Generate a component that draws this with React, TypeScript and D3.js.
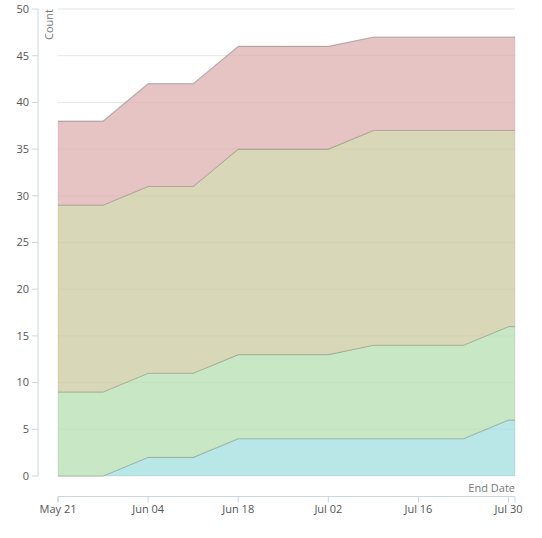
import * as d3 from "d3";

const dates = [
  "2018-05-21", "2018-05-28", "2018-06-04", "2018-06-11", "2018-06-18", "2018-06-25",
  "2018-07-02", "2018-07-09", "2018-07-16", "2018-07-23", "2018-07-30", "2018-07-31",
];
const seriesA = [0, 0, 2, 2, 4, 4, 4, 4, 4, 4, 6, 6];
const seriesB = [9, 9, 9, 9, 9, 9, 9, 10, 10, 10, 10, 10];
const seriesC = [20, 20, 20, 20, 22, 22, 22, 23, 23, 23, 21, 21];
const seriesD = [9, 9, 11, 11, 11, 11, 11, 10, 10, 10, 10, 10];
const seriesKeys = ["a", "b", "c", "d"];
const seriesColors = ["#a2dedf", "#b4dfb2", "#cbcba0", "#deb0b0"];
const yTicks = [0, 5, 10, 15, 20, 25, 30, 35, 40, 45, 50];

const W = 542;
const H = 538;
const plot = { left: 58, right: 515, top: 9, bottom: 476 };
const yAxisX = 38;
const xAxisY = 496.5;
const font = "'Open Sans', sans-serif";

export default function App() {
  const parse = d3.timeParse("%Y-%m-%d");
  const rows = dates.map((d, i) => ({
    date: parse(d) as Date,
    a: seriesA[i],
    b: seriesB[i],
    c: seriesC[i],
    d: seriesD[i],
  }));
  const stacked = d3.stack<any>().keys(seriesKeys)(rows);
  const first = rows[0].date;
  const last = rows[rows.length - 1].date;

  const x = d3.scaleTime().domain([first, last]).range([plot.left, plot.right]);
  const y = d3.scaleLinear().domain([0, 50]).range([plot.bottom, plot.top]);

  const area = d3
    .area<any>()
    .x((p) => x(p.data.date))
    .y0((p) => y(p[0]))
    .y1((p) => y(p[1]));
  const line = d3
    .line<any>()
    .x((p) => x(p.data.date))
    .y((p) => y(p[1]));

  const fmt = d3.timeFormat("%b %d");
  // every second week, starting from the first date
  const xTickValues = d3.timeDay.range(first, last, 14);

  return (
    <svg
      width={W}
      height={H}
      style={{ position: "absolute", left: 0, top: 0, background: "#fff" }}
      fontFamily={font}
    >
      {yTicks.slice(1).map((t) => (
        <line key={t} x1={plot.left} x2={plot.right} y1={y(t)} y2={y(t)} stroke="#e6e6e6" />
      ))}
      {stacked.map((s, i) => (
        <g key={s.key}>
          <path
            d={area(s) ?? ""}
            fill={seriesColors[i]}
            fillOpacity={0.75}
            stroke="#000"
            strokeOpacity={0.07}
          />
          <path d={line(s) ?? ""} fill="none" stroke="#000" strokeOpacity={0.18} strokeWidth={1.2} />
        </g>
      ))}

      <line x1={yAxisX} x2={yAxisX} y1={plot.top} y2={plot.bottom} stroke="#ccd6e0" />
      {yTicks.map((t) => (
        <g key={t} transform={`translate(0,${y(t)})`}>
          <line x1={yAxisX - 6} x2={yAxisX} stroke="#ccd6e0" />
          <text x={29} dy="0.35em" textAnchor="end" fontSize={11} fill="#555">
            {t}
          </text>
        </g>
      ))}
      <text transform={`translate(52.5,${plot.top}) rotate(-90)`} textAnchor="end" fontSize={11} fill="#777">
        Count
      </text>

      <path
        d={`M${plot.left},${xAxisY + 6}V${xAxisY}H${plot.right}V${xAxisY + 6}`}
        fill="none"
        stroke="#ccd6e0"
      />
      {xTickValues.map((t) => (
        <g key={+t} transform={`translate(${x(t)},${xAxisY})`}>
          <line y1={0} y2={6} stroke="#ccd6e0" />
          <text y={16.5} textAnchor="middle" fontSize={11} fill="#555">
            {fmt(t)}
          </text>
        </g>
      ))}
      <text x={plot.right} y={492} textAnchor="end" fontSize={11} fill="#777">
        End Date
      </text>
    </svg>
  );
}
